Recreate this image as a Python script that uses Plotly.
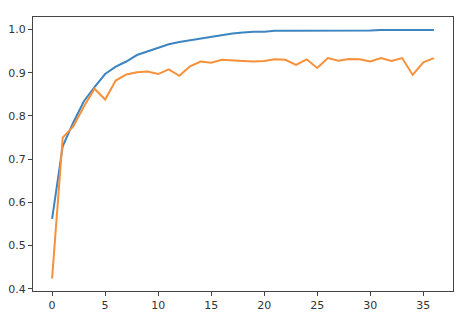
import plotly.graph_objects as go

epochs = list(range(37))
train_acc = [0.562, 0.730, 0.785, 0.834, 0.867, 0.897, 0.914, 0.926, 0.941, 0.949,
             0.957, 0.966, 0.971, 0.975, 0.979, 0.984, 0.988, 0.991, 0.993, 0.995,
             0.995, 0.997, 0.997, 0.997, 0.997, 0.998, 0.998, 0.998, 0.998, 0.998,
             0.998, 0.999, 0.999, 0.999, 0.999, 0.999, 0.999]
val_acc = [0.424, 0.750, 0.776, 0.822, 0.863, 0.838, 0.882, 0.896, 0.901, 0.903,
           0.897, 0.908, 0.893, 0.915, 0.926, 0.923, 0.930, 0.928, 0.927, 0.926,
           0.927, 0.931, 0.930, 0.918, 0.931, 0.911, 0.934, 0.928, 0.932, 0.931,
           0.926, 0.934, 0.927, 0.934, 0.895, 0.924, 0.934]
x_ticks = [0, 5, 10, 15, 20, 25, 30, 35]
y_ticks = [0.4, 0.5, 0.6, 0.7, 0.8, 0.9, 1.0]

fig = go.Figure()
fig.add_trace(go.Scatter(x=epochs, y=train_acc, mode="lines",
                         line=dict(color="#3d85c1", width=2), showlegend=False))
fig.add_trace(go.Scatter(x=epochs, y=val_acc, mode="lines",
                         line=dict(color="#f8903a", width=2), showlegend=False))

axis_common = dict(showgrid=False, zeroline=False, showline=True, mirror=True,
                   linecolor="#444444", linewidth=1, ticks="outside", ticklen=4,
                   tickcolor="#444444", automargin=False,
                   tickfont=dict(family="DejaVu Sans", size=11, color="#333333"))
fig.update_xaxes(range=[-1.8, 37.8], tickvals=x_ticks, ticktext=[str(v) for v in x_ticks], **axis_common)
fig.update_yaxes(range=[0.395, 1.029], tickvals=y_ticks, ticktext=[f"{v:.1f}" for v in y_ticks], **axis_common)

fig.update_layout(width=474, height=324, margin=dict(l=33, r=21, t=17, b=33),
                  plot_bgcolor="white", paper_bgcolor="white")
fig.write_html("out.html")
